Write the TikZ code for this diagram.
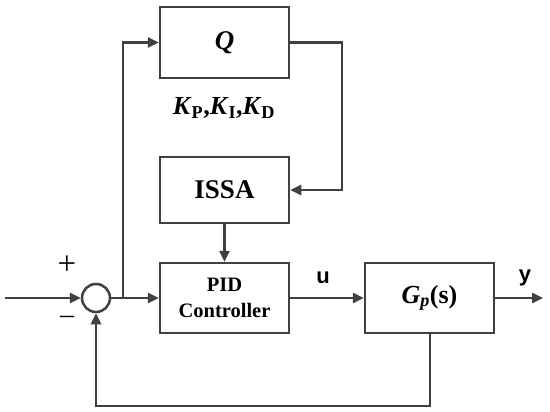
\documentclass[tikz,border=0pt]{standalone}
\usepackage{fontspec}
\setmainfont{Liberation Serif}
\newfontfamily\lsans{Liberation Sans}
\usetikzlibrary{arrows.meta}
\definecolor{lc}{HTML}{404040}
\begin{document}
\begin{tikzpicture}[x=1pt,y=-1pt,
  blk/.style={draw=lc,line width=2.5pt,rectangle,inner sep=0pt,align=center},
  conn/.style={draw=lc,line width=2.5pt},
  arr/.style={conn,-{Triangle[length=11pt,width=10pt]}},
  lbl/.style={inner sep=0pt}]
\useasboundingbox (0,0) rectangle (550,412);
\node[blk,minimum width=129pt,minimum height=71pt,font=\fontsize{27}{30}\selectfont\bfseries\itshape] (Q) at (224.5,42.5) {Q};
\node[lbl,font=\fontsize{26}{30}\selectfont\bfseries] (K) at (224,108) {\textit{K}\textsubscript{P},\textit{K}\textsubscript{I},\textit{K}\textsubscript{D}};
\node[blk,minimum width=129pt,minimum height=66pt,font=\fontsize{27}{30}\selectfont\bfseries] (ISSA) at (224.5,190) {ISSA};
\node[blk,minimum width=129pt,minimum height=70pt,font=\fontsize{20.5}{26}\selectfont\bfseries] (PID) at (224.5,298) {PID\\Controller};
\node[blk,minimum width=129pt,minimum height=70pt,font=\fontsize{26}{30}\selectfont\bfseries] (G) at (429.5,298) {\textit{G\textsubscript{p}}(s)};
\node[draw=lc,line width=2.5pt,circle,minimum size=28pt,inner sep=0pt] (S) at (96,298) {};
\node[lbl,font=\fontsize{33}{36}\selectfont] (plus) at (67,265) {+};
\node[lbl,font=\fontsize{28}{30}\selectfont] (minus) at (67,320) {\textendash};
\node[lbl,font=\lsans\fontsize{22}{24}\selectfont\bfseries] (u) at (323,278) {u};
\node[lbl,font=\lsans\fontsize{22}{24}\selectfont\bfseries] (y) at (525,278) {y};
\coordinate (in) at (5,298);
\coordinate (j) at (123,298);
\coordinate (qr) at (342,42.5);
\coordinate (out) at (543,298);
\coordinate (fb) at (430,406);
\draw[arr] (in) -- (S.west);
\draw[arr] (S.east) -- (PID.west);
\draw[arr] (j) |- (Q.west);
\draw[arr] (Q.east) -- (qr) |- (ISSA.east);
\draw[arr] (ISSA.south) -- (PID.north);
\draw[arr] (PID.east) -- (G.west);
\draw[arr] (G.east) -- (out);
\draw[arr] (G.south -| fb) -- (fb) -| (S.south);
\end{tikzpicture}
\end{document}
